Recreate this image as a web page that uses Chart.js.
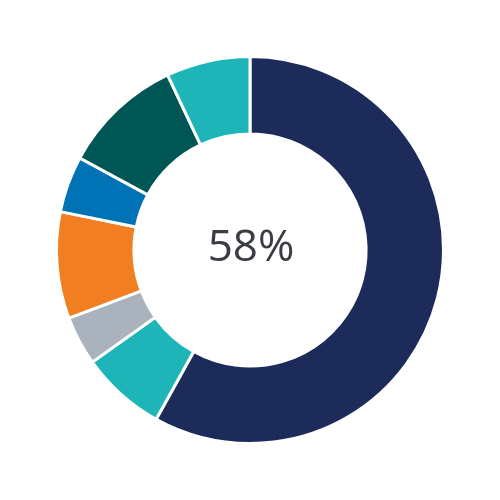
<!DOCTYPE html>
<html>
<head>
<meta charset="utf-8">
<script src="https://cdn.jsdelivr.net/npm/chart.js"></script>
<style>
  html, body { margin: 0; padding: 0; background: #fff; }
  #wrap { width: 500px; height: 500px; position: relative; }
</style>
</head>
<body>
<div id="wrap"><canvas id="chart"></canvas></div>
<script>
const segmentLabels = ['Navy', 'Teal A', 'Gray', 'Orange', 'Blue', 'Dark green', 'Teal B'];
const segmentValues = [58, 7.1, 4.1, 8.9, 4.7, 10.1, 7.0];
const segmentColors = ['#1c2b5a', '#1db5b8', '#a9b2bd', '#f17f21', '#0072b6', '#005655', '#1db5b8'];
const centerText = '58%';

const centerLabel = {
  id: 'centerLabel',
  afterDraw(chart) {
    const { ctx } = chart;
    const arc = chart.getDatasetMeta(0).data[0];
    ctx.save();
    ctx.font = '44px "Open Sans", sans-serif';
    ctx.fillStyle = '#3b3d45';
    ctx.textAlign = 'center';
    ctx.textBaseline = 'middle';
    ctx.fillText(centerText, arc.x + 1, arc.y - 2);
    ctx.restore();
  },
};

new Chart(document.getElementById('chart'), {
  type: 'doughnut',
  data: {
    labels: segmentLabels,
    datasets: [{
      data: segmentValues,
      backgroundColor: segmentColors,
      borderColor: '#ffffff',
      borderWidth: 3,
    }],
  },
  options: {
    responsive: true,
    maintainAspectRatio: false,
    animation: false,
    cutout: '60%',
    layout: { padding: 55 },
    plugins: {
      legend: { display: false },
      tooltip: { enabled: false },
    },
  },
  plugins: [centerLabel],
});
</script>
</body>
</html>
